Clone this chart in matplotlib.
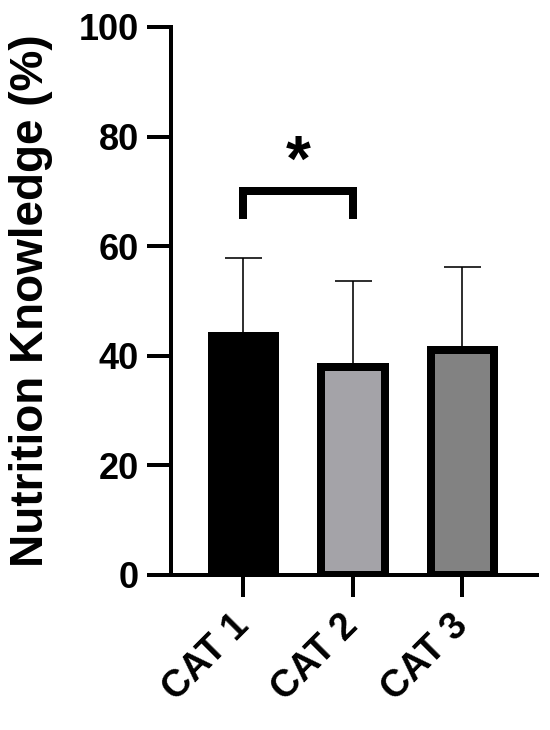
import matplotlib
matplotlib.use("Agg")
import matplotlib.pyplot as plt

categories = ["CAT 1", "CAT 2", "CAT 3"]
means = [43.6, 38.0, 41.0]
sd_upper = [14.2, 15.6, 15.2]
fill_colors = ["#000000", "#A4A3A8", "#828282"]
y_ticks = [0, 20, 40, 60, 80, 100]
bracket_pair = (0, 1)
bracket_y = 70
bracket_leg = 65
star_text = "*"
star_y = 75

plt.rcParams['font.family'] = ['Liberation Sans', 'DejaVu Sans']
plt.rcParams['font.weight'] = 'bold'

dpi = 100
fig = plt.figure(figsize=(5.5, 7.3), dpi=dpi)
ax = fig.add_axes([171/550, 1 - 575/730, (537-171)/550, (575-27)/730])

px = 72 / dpi
x = list(range(len(categories)))
ax.errorbar(x, means, yerr=[[0]*3, sd_upper], fmt='none', ecolor='black',
            elinewidth=1.6*px, capsize=18.5*px, capthick=1.6*px, zorder=1)
ax.bar(x, means, width=0.58, color=fill_colors, edgecolor='black',
       linewidth=8*px, zorder=2)

# significance bracket
x0, x1 = bracket_pair
ax.plot([x0, x0, x1, x1], [bracket_leg, bracket_y, bracket_y, bracket_leg],
        color='black', lw=8*px, solid_joinstyle='miter', solid_capstyle='butt',
        clip_on=False, zorder=3)
ax.text((x0 + x1) / 2, star_y, star_text, ha='center', va='center',
        fontsize=46, fontweight='bold')

ax.set_xlim(-0.66, 2.68)
ax.set_ylim(0, 100)
ax.set_yticks(y_ticks)
ax.set_yticklabels([str(v) for v in y_ticks], fontsize=26, fontweight='bold')
ax.set_xticks(x)
ax.set_xticklabels(categories, fontsize=27, fontweight='bold', rotation=45,
                   ha='right', va='center', rotation_mode='anchor')
ax.set_ylabel("Nutrition Knowledge (%)", fontsize=33, fontweight='bold', labelpad=18)

for s in ['top', 'right']:
    ax.spines[s].set_visible(False)
for s in ['left', 'bottom']:
    ax.spines[s].set_linewidth(4*px)
ax.tick_params(axis='both', length=24*px, width=4*px, pad=6)
ax.tick_params(axis='x', length=22*px, pad=17)

fig.savefig("out.png", dpi=dpi, facecolor='white')
